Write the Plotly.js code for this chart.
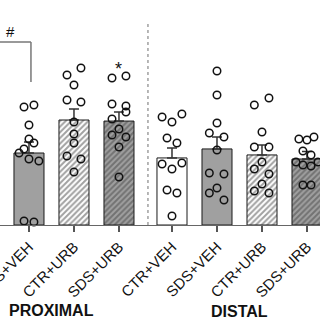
<!DOCTYPE html>
<html>
<head>
<meta charset="utf-8">
<script src="https://cdn.plot.ly/plotly-3.0.1.min.js"></script>
<style>html,body{margin:0;padding:0;background:#fff;}#chart{width:320px;height:320px;}</style>
</head>
<body>
<div id="chart"></div>
<script>
// Categories and positions (x positions of groups on a numeric axis)
const categories = ['SDS+VEH', 'CTR+URB', 'SDS+URB', 'CTR+VEH', 'SDS+VEH', 'CTR+URB', 'SDS+URB'];
const xPos = [0, 1, 2, 3.178, 4.178, 5.178, 6.178];
const barMeans = [48, 70, 69.3, 44.7, 50.7, 46.7, 44];
const barSEM = [7.3, 7.3, 6, 6.7, 8, 6.7, 5];
const barColor = ['#a0a0a0', '#ffffff', '#a0a0a0', '#ffffff', '#a0a0a0', '#ffffff', '#a0a0a0'];
const barHatch = ['', '/', '/', '', '', '/', '/'];

// Individual points: group index, jitter (axis units), value
const dotGroup = [
  0,0,0,0,0,0,0,0,0,0,0,
  1,1,1,1,1,1,1,1,1,1,1,
  2,2,2,2,2,2,2,2,2,2,2,
  3,3,3,3,3,3,3,3,3,3,3,
  4,4,4,4,4,4,4,4,4,4,4,
  5,5,5,5,5,5,5,5,5,5,5,
  6,6,6,6,6,6,6,6,6,6,6
];
const dotJitter = [
  -0.11,0.11,0,0,0.11,-0.11,-0.22,0,0.22,-0.11,0.11,
  -0.155,0.155,0,-0.155,0.155,0,0,0,-0.155,0.155,0,
  -0.155,0.155,-0.155,0.155,0.155,-0.155,0,-0.155,0.155,0,0,
  -0.22,0,0.22,-0.11,0.11,-0.22,0,0.22,-0.11,0.11,0,
  0,0,0,-0.17,0.155,0,-0.17,0.155,0,-0.17,0.155,
  -0.17,0.155,0,-0.17,0.155,0,-0.17,0.155,0,-0.17,0.155,
  -0.18,0,0.155,-0.09,0.09,-0.245,-0.09,0.09,0.245,-0.09,0.09
];
const dotValue = [
  78.7,80,66.7,57.3,54.7,50.7,48,44,42.7,2.7,2,
  100,104.7,93.3,83.3,82,68.7,60.7,54.7,46,44,35.3,
  98,99.3,80.7,79.3,75.3,70.7,64,60,58.7,52,32,
  72,68.7,74,58,54.7,40.7,37.3,41.3,23.3,21.3,6,
  102.7,86.7,68,61.3,58.7,50,34.7,34,24.7,21.3,16.7,
  80,84.7,62,52,52,42,37.3,34,27.3,22.7,21.3,
  57.3,56.7,58.7,49.3,46.7,42,40,39.3,42,26.7,26.7
];

const dotX = dotGroup.map((g, i) => xPos[g] + dotJitter[i]);

const bars = {
  type: 'bar',
  x: xPos,
  y: barMeans,
  width: 0.667,
  marker: {
    color: barColor,
    line: {color: '#1a1a1a', width: 1},
    pattern: {shape: barHatch, fillmode: 'overlay', fgcolor: '#111111', bgcolor: barColor, size: 4, solidity: 0.5}
  },
  error_y: {type: 'data', symmetric: false, array: barSEM, arrayminus: barSEM.map(() => 0), color: '#333333', thickness: 1.5, width: 5},
  hoverinfo: 'none',
  showlegend: false
};

const dots = {
  type: 'scatter',
  mode: 'markers',
  x: dotX,
  y: dotValue,
  marker: {symbol: 'circle-open', size: 7.5, color: '#111111', line: {width: 1.5, color: '#111111'}},
  cliponaxis: false,
  hoverinfo: 'none',
  showlegend: false
};

const layout = {
  width: 320, height: 320,
  margin: {l: 0, r: 0, t: 0, b: 95, pad: 0},
  paper_bgcolor: '#ffffff', plot_bgcolor: '#ffffff',
  font: {family: 'Liberation Sans, Arial, sans-serif', color: '#111'},
  xaxis: {
    range: [-0.644, 6.467], tickmode: 'array', tickvals: xPos, ticktext: categories,
    tickangle: -45, ticks: 'outside', ticklen: 6, tickwidth: 1.3, tickcolor: '#555',
    showline: true, linecolor: '#666', linewidth: 1.3, showgrid: false, zeroline: false,
    tickfont: {size: 15, color: '#111', family: 'Liberation Sans, Arial, sans-serif'},
    ticklabeloverflow: 'allow',
    automargin: false, fixedrange: true
  },
  yaxis: {range: [0, 150], visible: false, showgrid: false, zeroline: false, fixedrange: true},
  shapes: [
    {type: 'line', xref: 'x', yref: 'y', x0: 2.644, x1: 2.644, y0: 0, y1: 135, line: {color: '#888', width: 1.2, dash: 'dot'}},
    {type: 'line', xref: 'x', yref: 'y', x0: -1, x1: 0.044, y0: 122, y1: 122, line: {color: '#777', width: 1.5}},
    {type: 'line', xref: 'x', yref: 'y', x0: 0.044, x1: 0.044, y0: 122, y1: 95.3, line: {color: '#777', width: 1.5}}
  ],
  annotations: [
    {x: -0.4, y: 128.7, xref: 'x', yref: 'y', text: '#', showarrow: false, font: {size: 15, color: '#111'}},
    {x: 2, y: 104, xref: 'x', yref: 'y', text: '*', showarrow: false, font: {size: 18, color: '#111'}},
    {x: 0.511, y: -0.378, xref: 'x', yref: 'paper', yanchor: 'middle', text: '<b>PROXIMAL</b>', showarrow: false, font: {size: 16, color: '#111'}},
    {x: 4.689, y: -0.386, xref: 'x', yref: 'paper', yanchor: 'middle', text: '<b>DISTAL</b>', showarrow: false, font: {size: 16, color: '#111'}}
  ]
};

Plotly.newPlot('chart', [bars, dots], layout, {staticPlot: true, displayModeBar: false});
</script>
</body>
</html>
